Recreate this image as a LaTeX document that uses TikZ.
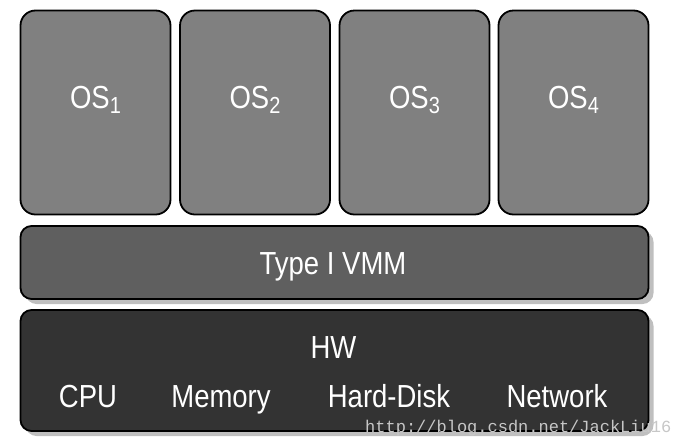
\documentclass[tikz,border=0pt]{standalone}
\usepackage{fontspec}
\setmainfont{Liberation Sans}
\setmonofont{Liberation Mono}
\usetikzlibrary{shadows}

\definecolor{osgray}{HTML}{808080}
\definecolor{vmmgray}{HTML}{5F5F5F}
\definecolor{hwgray}{HTML}{333333}

\newcommand{\tallfont}[1]{\scalebox{1}[1.16]{#1}}
\newcommand{\osname}[1]{\tallfont{OS\raisebox{-5pt}{\fontsize{20}{24}\selectfont #1}}}

\begin{document}
\begin{tikzpicture}[x=1pt, y=-1pt,
    osbox/.style={draw, line width=1.8pt, rounded corners=15pt, fill=osgray, minimum width=150pt, minimum height=204pt, inner sep=0pt},
    layer/.style={draw, line width=1.8pt, rounded corners=11pt, minimum width=628pt, inner sep=0pt, drop shadow={shadow xshift=5pt, shadow yshift=-5pt, fill=black!25, opacity=1}},
    lbl/.style={anchor=base, inner sep=0pt, text=white, font=\fontsize{27.5}{33}\selectfont},
]
    \useasboundingbox (0,0) rectangle (676,445);

    % guest systems
    \node[osbox] (os1) at (95.5, 112.5) {};
    \node[osbox] (os2) at (255, 112.5) {};
    \node[osbox] (os3) at (414.5, 112.5) {};
    \node[osbox] (os4) at (573.5, 112.5) {};
    \node[lbl] (os1t) at (95.5, 108) {\osname{1}};
    \node[lbl] (os2t) at (255, 108) {\osname{2}};
    \node[lbl] (os3t) at (414.5, 108) {\osname{3}};
    \node[lbl] (os4t) at (573.5, 108) {\osname{4}};

    % hypervisor
    \node[layer, fill=vmmgray, minimum height=73pt] (vmm) at (334.5, 262.5) {};
    \node[lbl] (vmmt) at (333, 274) {\tallfont{Type I VMM}};

    % hardware
    \node[layer, fill=hwgray, minimum height=121pt] (hw) at (334.5, 370.5) {};
    \node[lbl] (hwt) at (333.5, 358) {\tallfont{HW}};
    \node[lbl] (cpu) at (88, 407) {\tallfont{CPU}};
    \node[lbl] (mem) at (221, 407) {\tallfont{Memory}};
    \node[lbl] (disk) at (389, 407) {\tallfont{Hard-Disk}};
    \node[lbl] (net) at (557, 407) {\tallfont{Network}};

    \node[anchor=base west, inner sep=0pt, text=black!22, font=\ttfamily\fontsize{17}{17}\selectfont] (mark) at (365, 432) {http://blog.csdn.net/JackLiu16};
\end{tikzpicture}
\end{document}
